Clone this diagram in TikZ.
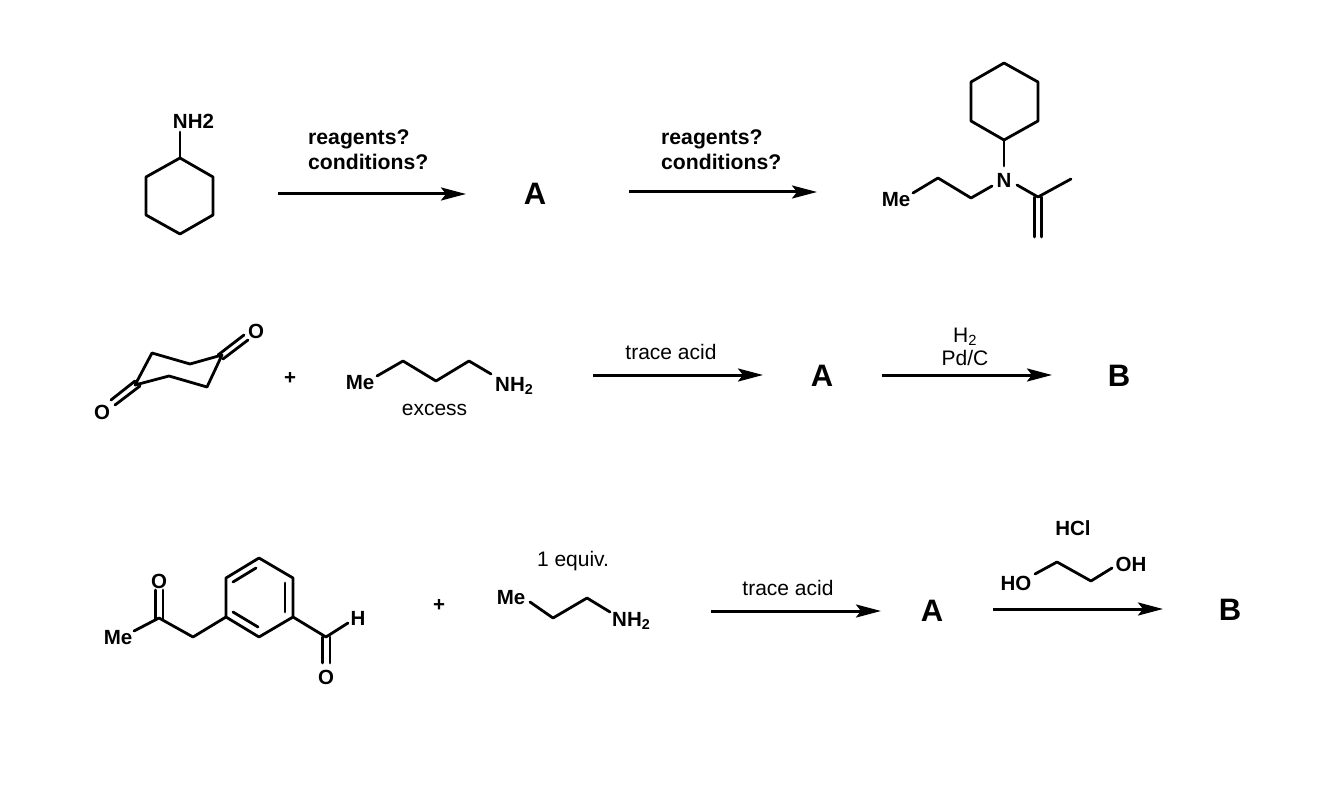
\documentclass[tikz,border=0pt]{standalone}
\usepackage{fontspec}
\setmainfont{Liberation Sans}
\usetikzlibrary{arrows.meta}
\tikzset{
  x=1pt,y=-1pt,
  bond/.style={line width=2.8pt,line cap=round,line join=round,black},
  rxn/.style={line width=3pt,black,-{Stealth[length=25pt,width=13pt,inset=5pt]}},
  atom/.style={font=\fontsize{20.5}{20.5}\selectfont\bfseries,inner sep=0pt},
  cond/.style={font=\fontsize{21.2}{25}\selectfont\bfseries,inner sep=0pt,align=left},
  plain/.style={font=\fontsize{21}{21}\selectfont,inner sep=0pt,align=center},
  big/.style={font=\fontsize{31}{31}\selectfont\bfseries,inner sep=0pt},
}
\begin{document}
\begin{tikzpicture}
\useasboundingbox (0,0) rectangle (1330,786);
% --- row 1: cyclohexylamine
\node[atom] (nh) at (193.5,121) {NH2};
\coordinate (nhe) at (180,132);
\foreach \n/\x/\y in {r1/180/158,r2/213/177,r3/213/215,r4/180/234,r5/146/215,r6/146/177}
  \coordinate (\n) at (\x,\y);
\draw[bond] (r1)--(r2)--(r3)--(r4)--(r5)--(r6)--cycle;
\draw[bond] (r1)--(nhe);
% arrows row 1
\coordinate (a1s) at (278,194); \coordinate (a1e) at (466,194);
\coordinate (a2s) at (629,192); \coordinate (a2e) at (817,192);
\draw[rxn] (a1s)--(a1e);
\draw[rxn] (a2s)--(a2e);
\node[cond,anchor=west] (c1) at (308,150) {reagents?\\conditions?};
\node[cond,anchor=west] (c2) at (661,150) {reagents?\\conditions?};
\node[big] (A1) at (535,194) {A};
% product
\foreach \n/\x/\y in {p1/1004/63,p2/1038/82,p3/1038/121,p4/1004/140,p5/971/121,p6/971/82,
  nt/1004/166,nl/992/186,q1/971/198,q2/938/178,q3/913/193,nr/1017/185,s1/1038/197,s2/1071/179}
  \coordinate (\n) at (\x,\y);
\draw[bond] (p1)--(p2)--(p3)--(p4)--(p5)--(p6)--cycle;
\draw[bond] (p4)--(nt);
\draw[bond] (nl)--(q1)--(q2)--(q3);
\draw[bond] (nr)--(s1)--(s2);
\coordinate (d1a) at (1034.5,197); \coordinate (d1b) at (1034.5,237);
\coordinate (d2a) at (1041.5,197); \coordinate (d2b) at (1041.5,237);
\draw[bond] (d1a)--(d1b);
\draw[bond] (d2a)--(d2b);
\node[atom] (N) at (1004,180) {N};
\node[atom] (Me1) at (896,200) {Me};
% --- row 2: cyclohexanedione
\coordinate (k1) at (152,353); \coordinate (k2) at (190,364); \coordinate (k3) at (222,355);
\coordinate (k4) at (207,387); \coordinate (k5) at (169,376); \coordinate (k6) at (135,385);
\draw[bond] (k1)--(k2)--(k3)--(k4)--(k5)--(k6)--cycle;
\coordinate (o1a) at (244,335); \coordinate (o1b) at (218,355);
\coordinate (o2a) at (248,340); \coordinate (o2b) at (223,359);
\coordinate (o3a) at (111,400); \coordinate (o3b) at (135,381);
\coordinate (o4a) at (115,405); \coordinate (o4b) at (140,386);
\draw[bond] (o1a)--(o1b);
\draw[bond] (o2a)--(o2b);
\draw[bond] (o3a)--(o3b);
\draw[bond] (o4a)--(o4b);
\node[atom] (O1) at (256,331) {O};
\node[atom] (O2) at (102,412) {O};
\node[atom] (plus1) at (290,378) {+};
\node[atom] (Me2) at (360,383) {Me};
\node[atom,anchor=west] (NH2a) at (495,386) {NH\textsubscript{2}};
\coordinate (b1) at (377,376); \coordinate (b2) at (403,361); \coordinate (b3) at (436,381);
\coordinate (b4) at (469,361); \coordinate (b5) at (491,374);
\draw[bond] (b1)--(b2)--(b3)--(b4)--(b5);
\node[plain] (ex) at (434.5,410) {excess};
\coordinate (a3s) at (593,375); \coordinate (a3e) at (763,375);
\coordinate (a4s) at (882,375); \coordinate (a4e) at (1052,375);
\draw[rxn] (a3s)--(a3e);
\draw[rxn] (a4s)--(a4e);
\node[plain] (ta1) at (671,352) {trace acid};
\node[big] (A2) at (822,376) {A};
\node[plain] (h2) at (965,337) {H\textsubscript{2}};
\node[plain] (pd) at (965,358) {Pd/C};
\node[big] (B1) at (1119,376) {B};
% --- row 3
\foreach \n/\x/\y in {z1/226/617,z2/226/578,z3/259/558,z4/293/578,z5/293/617,z6/259/637}
  \coordinate (\n) at (\x,\y);
\draw[bond] (z1)--(z2)--(z3)--(z4)--(z5)--(z6)--cycle;
\coordinate (i1a) at (233,582); \coordinate (i1b) at (256,568);
\coordinate (i2a) at (285,583); \coordinate (i2b) at (285,612);
\coordinate (i3a) at (233,612); \coordinate (i3b) at (258,627);
\draw[bond] (i1a)--(i1b);
\draw[bond] (i2a)--(i2b);
\draw[bond] (i3a)--(i3b);
\coordinate (m1) at (134,631); \coordinate (m2) at (159,618); \coordinate (m3) at (193,637);
\draw[bond] (m1)--(m2)--(m3)--(z1);
\coordinate (u1a) at (155.5,590); \coordinate (u1b) at (155.5,619);
\coordinate (u2a) at (163,590); \coordinate (u2b) at (163,619);
\draw[bond] (u1a)--(u1b);
\draw[bond] (u2a)--(u2b);
\node[atom] (O3) at (159,581) {O};
\node[atom] (Me3) at (118,638) {Me};
\coordinate (ald) at (326,637); \coordinate (hb) at (348,623);
\draw[bond] (z5)--(ald)--(hb);
\coordinate (v1a) at (322.5,637); \coordinate (v1b) at (322.5,663);
\coordinate (v2a) at (330,637); \coordinate (v2b) at (330,663);
\draw[bond] (v1a)--(v1b);
\draw[bond] (v2a)--(v2b);
\node[atom] (H1) at (358,618) {H};
\node[atom] (O4) at (326,677) {O};
\node[atom] (plus2) at (439,605) {+};
\node[plain] (eq) at (573,561) {1 equiv.};
\node[atom] (Me4) at (511,598) {Me};
\node[atom,anchor=west] (NH2b) at (612,621) {NH\textsubscript{2}};
\coordinate (w1) at (530,602); \coordinate (w2) at (553,618); \coordinate (w3) at (587,598);
\coordinate (w4) at (610,612);
\draw[bond] (w1)--(w2)--(w3)--(w4);
\coordinate (a5s) at (711,611); \coordinate (a5e) at (881,611);
\coordinate (a6s) at (993,609); \coordinate (a6e) at (1163,609);
\draw[rxn] (a5s)--(a5e);
\draw[rxn] (a6s)--(a6e);
\node[plain] (ta2) at (788,588) {trace acid};
\node[big] (A3) at (932,611) {A};
\node[big] (B2) at (1230,610) {B};
\node[atom] (hcl) at (1073,528) {HCl};
\node[atom] (ho) at (1016,583) {HO};
\node[atom] (oh) at (1131,564) {OH};
\coordinate (g1) at (1035,574); \coordinate (g2) at (1057,562); \coordinate (g3) at (1091,581);
\coordinate (g4) at (1112,568);
\draw[bond] (g1)--(g2)--(g3)--(g4);
\end{tikzpicture}
\end{document}
